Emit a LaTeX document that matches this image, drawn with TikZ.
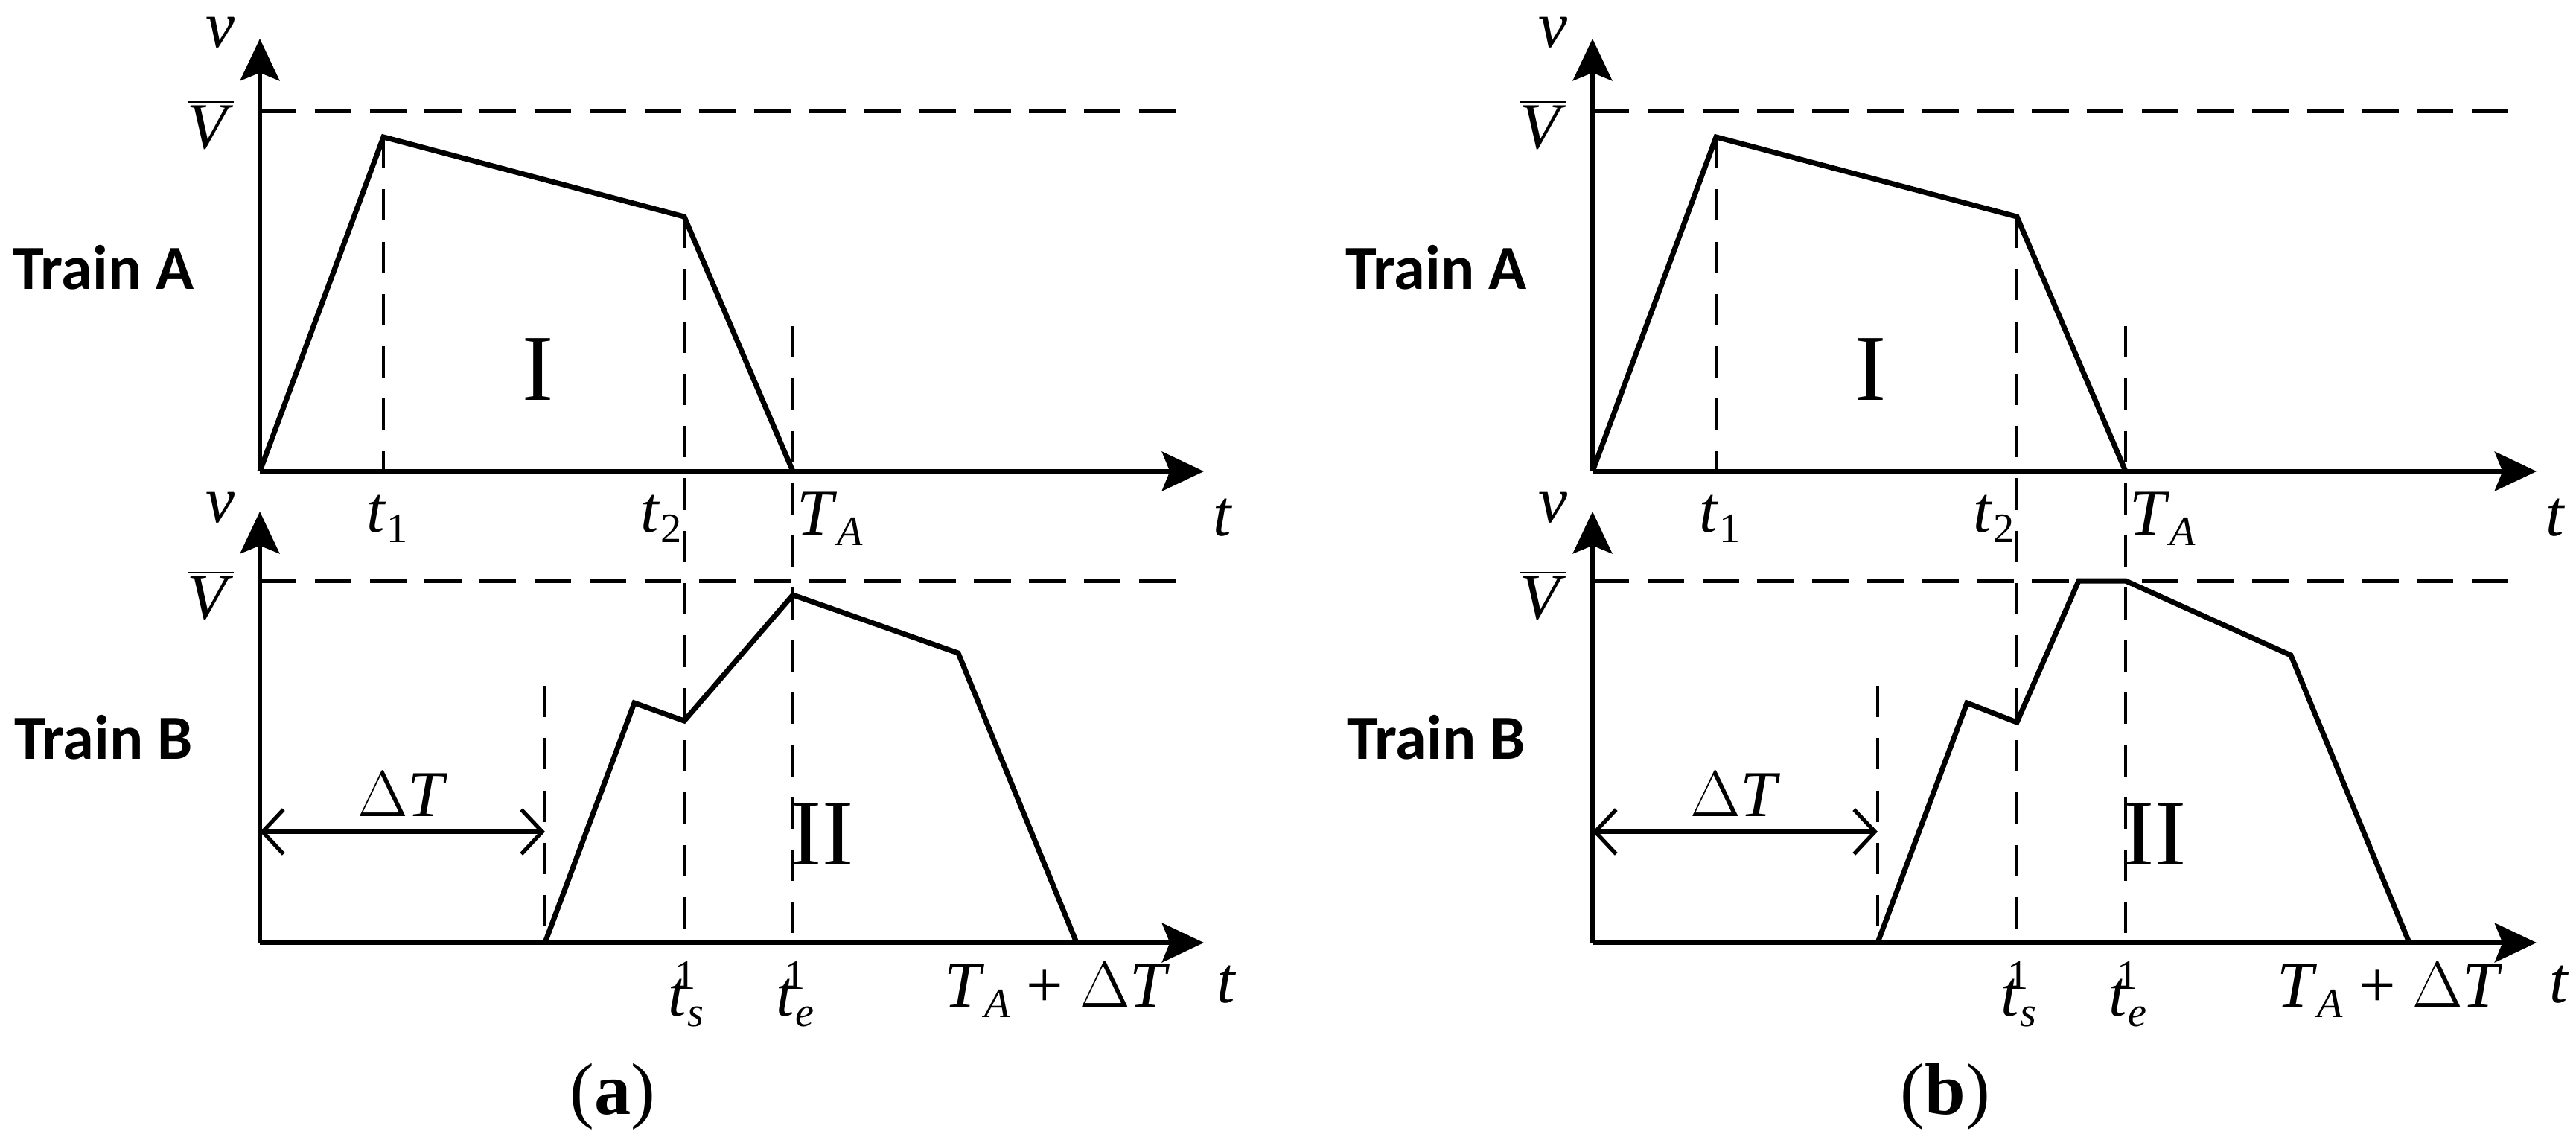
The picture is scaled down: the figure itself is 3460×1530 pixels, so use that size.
\documentclass[tikz,border=0pt]{standalone}
\usepackage{fontspec}
\setmainfont{Liberation Serif}
\newfontfamily\trainfont{Carlito}
\usetikzlibrary{arrows.meta}
\newcommand{\itx}[1]{\textit{#1}}
\newcommand{\sbs}[1]{\raisebox{-0.35ex}{\fontsize{16}{18}\selectfont #1}}
\newcommand{\sps}[1]{\raisebox{0.9ex}{\fontsize{16}{18}\selectfont #1}}
\begin{document}
\begin{tikzpicture}[x=0.1mm,y=-0.1mm,
  axis/.style={line width=1.8pt,-{Stealth[length=16pt,width=15pt,inset=3pt]}},
  curve/.style={line width=2pt,line join=miter},
  vdash/.style={line width=1.3pt,dash pattern=on 12pt off 8pt},
  hdash/.style={line width=1.5pt,dash pattern=on 14pt off 7pt},
  lbl/.style={font=\fontsize{25}{30}\selectfont},
  train/.style={font=\trainfont\bfseries\fontsize{24}{28}\selectfont},
  roman/.style={font=\fontsize{36}{40}\selectfont},
  dt/.style={line width=1.5pt,{Straight Barb[length=8pt,width=17pt]}-{Straight Barb[length=8pt,width=17pt]}}]
\useasboundingbox (0,0) rectangle (3460,1530);
\foreach \dx/\cap/\variant in {0/a/0,1790/b/1}{
\begin{scope}[xshift=\dx*0.1mm]
  \coordinate (oA) at (349,633);
  \coordinate (yA) at (349,52);
  \coordinate (xA) at (1617,633);
  \coordinate (vA1) at (349,149); \coordinate (vA2) at (1598,149);
  \coordinate (a1) at (515,184); \coordinate (a2) at (919,291); \coordinate (a3) at (1065,633);
  \coordinate (a1b) at (515,633);
  \coordinate (taT) at (1065,438);
  \coordinate (oB) at (349,1266);
  \coordinate (yB) at (349,687);
  \coordinate (xB) at (1617,1266);
  \coordinate (vB1) at (349,780); \coordinate (vB2) at (1598,780);
  \coordinate (dT) at (732,921); \coordinate (b0) at (732,1266);
  \coordinate (tsB) at (919,1266); \coordinate (teB) at (1065,1266);
  \coordinate (dA) at (349,1117); \coordinate (dB) at (732,1117);
  \draw[hdash] (vA1) -- (vA2);
  \draw[hdash] (vB1) -- (vB2);
  \draw[vdash] (a1) -- (a1b);
  \draw[vdash] (a2) -- (tsB);
  \draw[vdash] (taT) -- (teB);
  \draw[vdash] (dT) -- (b0);
  \draw[axis] (oA) -- (yA);
  \draw[axis] (oA) -- (xA);
  \draw[axis] (oB) -- (yB);
  \draw[axis] (oB) -- (xB);
  \draw[curve] (oA) -- (a1) -- (a2) -- (a3);
  \ifnum\variant=0
    \draw[curve] (b0) -- (852,944) -- (919,968) -- (1065,799) -- (1287,877) -- (1446,1266);
  \else
    \draw[curve] (b0) -- (852,944) -- (919,970) -- (1002,780) -- (1065,780) -- (1287,880) -- (1446,1266);
  \fi
  \draw[dt] (dA) -- (dB);
  \node[lbl] (lv1) at (296,44) {\itx{v}};
  \node[lbl] (lV1) at (283,168) {$\overline{\mbox{\itx{V}}}$};
  \node[train] (trA) at (139,359) {Train A};
  \node[roman] (rI) at (723,496) {I};
  \node[lbl] (lt1) at (520,697) {\itx{t}\sbs{1}};
  \node[lbl] (lt2) at (888,697) {\itx{t}\sbs{2}};
  \node[lbl] (lTA) at (1115,697) {\itx{T}\sbs{\itx{A}}};
  \node[lbl] (ltA) at (1643,695) {\itx{t}};
  \node[lbl] (lv2) at (296,682) {\itx{v}};
  \node[lbl] (lV2) at (283,800) {$\overline{\mbox{\itx{V}}}$};
  \node[train] (trB) at (139,990) {Train B};
  \node[roman] (rII) at (1104,1120) {II};
  \node[lbl] (ldT) at (541,1067) {$\Delta$\itx{T}};
  \node[lbl] (lts) at (916,1335) {\itx{t}\sbs{\itx{s}}\hspace{-0.45em}\sps{1}};
  \node[lbl] (lte) at (1062,1335) {\itx{t}\sbs{\itx{e}}\hspace{-0.45em}\sps{1}};
  \node[lbl] (ltad) at (1420,1330) {\itx{T}\sbs{\itx{A}} + $\Delta$\itx{T}};
  \node[lbl] (ltB) at (1648,1322) {\itx{t}};
  \node[font=\fontsize{28}{32}\selectfont] (cap) at (823,1473) {(\textbf{\cap})};
\end{scope}}
\end{tikzpicture}
\end{document}
